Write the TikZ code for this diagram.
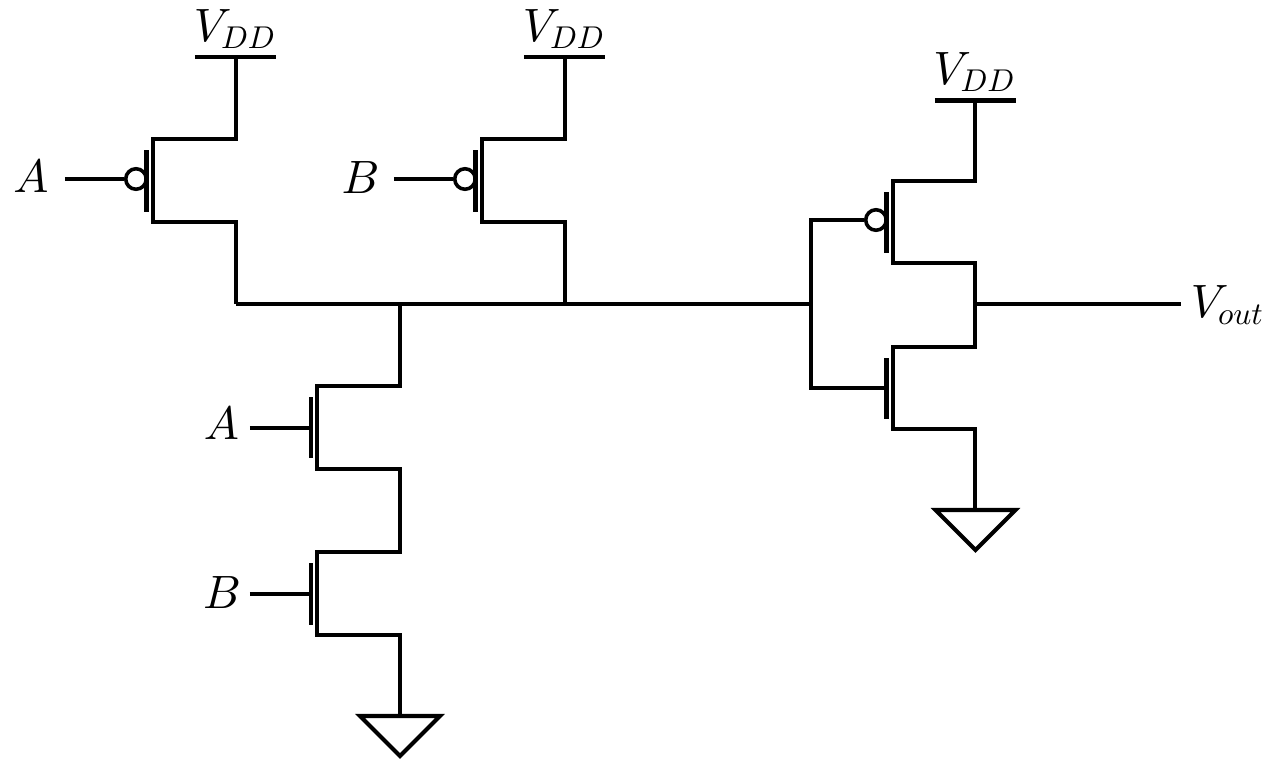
\documentclass[tikz,border=0pt]{standalone}
\DeclareFontShape{OML}{cmm}{m}{it}{<->cmmi10}{}
\DeclareMathSizes{10}{10.4}{7}{5}
\newlength{\du}
\setlength{\du}{0.2222pt}
\tikzset{
  wire/.style={line width=4.1\du,line join=miter},
  bubble/.style={circle,draw,line width=3.6\du,inner sep=0pt,minimum size=20.5\du},
  lbl/.style={inner sep=0pt},
  gnd/.style={line width=4.1\du,line join=miter,fill=white}
}
\begin{document}
\begin{tikzpicture}
\pgftransformxscale{1.000000}
\pgftransformyscale{-1.000000}
\useasboundingbox (0\du,0\du) rectangle (1276\du,766\du);
% top left pmos
\coordinate (vddaL) at (195\du,57\du);
\coordinate (vddaR) at (276\du,57\du);
\coordinate (vdda) at (236\du,57\du);
\coordinate (pasR) at (236\du,139\du);
\coordinate (pas) at (153\du,139\du);
\coordinate (pad) at (153\du,222\du);
\coordinate (padR) at (236\du,222\du);
\coordinate (buslA) at (236\du,304\du);
\coordinate (pabT) at (146.5\du,150\du);
\coordinate (pabB) at (146.5\du,212\du);
\coordinate (pain) at (65\du,179\du);
\node[bubble] (pab) at (136\du,179\du) {};
\node[lbl] (vddalbl) at (235.5\du,29\du) {$V_{DD}$};
\node[lbl] (palbl) at (31\du,176.5\du) {$A$};
\draw[wire] (vddaL)--(vddaR);
\draw[wire] (vdda)--(pasR)--(pas)--(pad)--(padR)--(buslA);
\draw[wire] (pabT)--(pabB);
\draw[wire] (pain)--(pab);
% top middle pmos
\coordinate (vddbL) at (524\du,57\du);
\coordinate (vddbR) at (605\du,57\du);
\coordinate (vddb) at (565\du,57\du);
\coordinate (pbsR) at (565\du,139\du);
\coordinate (pbs) at (482\du,139\du);
\coordinate (pbd) at (482\du,222\du);
\coordinate (pbdR) at (565\du,222\du);
\coordinate (buslB) at (565\du,304\du);
\coordinate (pbbT) at (475.5\du,150\du);
\coordinate (pbbB) at (475.5\du,212\du);
\coordinate (pbin) at (394\du,179\du);
\node[bubble] (pbb) at (465\du,179\du) {};
\node[lbl] (vddblbl) at (564.5\du,29\du) {$V_{DD}$};
\node[lbl] (pblbl) at (360.5\du,178\du) {$B$};
\draw[wire] (vddbL)--(vddbR);
\draw[wire] (vddb)--(pbsR)--(pbs)--(pbd)--(pbdR)--(buslB);
\draw[wire] (pbbT)--(pbbB);
\draw[wire] (pbin)--(pbb);
% bus
\coordinate (buslN) at (400\du,304\du);
\coordinate (busrI) at (811\du,304\du);
\draw[wire] (buslA)--(busrI);
% nmos stack
\coordinate (naR) at (400\du,386\du);
\coordinate (nad) at (317\du,386\du);
\coordinate (nas) at (317\du,469\du);
\coordinate (nasR) at (400\du,469\du);
\coordinate (nbdR) at (400\du,552\du);
\coordinate (nbd) at (317\du,552\du);
\coordinate (nbs) at (317\du,635\du);
\coordinate (nbsR) at (400\du,635\du);
\coordinate (gndl) at (400\du,716\du);
\coordinate (gndlL) at (360\du,716\du);
\coordinate (gndlR) at (440\du,716\du);
\coordinate (gndlT) at (400\du,756\du);
\coordinate (nabT) at (311\du,397\du);
\coordinate (nabB) at (311\du,458\du);
\coordinate (naG) at (311\du,428\du);
\coordinate (nain) at (250\du,428\du);
\coordinate (nbbT) at (311\du,563\du);
\coordinate (nbbB) at (311\du,625\du);
\coordinate (nbG) at (311\du,594\du);
\coordinate (nbin) at (250\du,594\du);
\node[lbl] (nalbl) at (221.5\du,423.5\du) {$A$};
\node[lbl] (nblbl) at (222\du,593\du) {$B$};
\draw[wire] (buslN)--(naR)--(nad)--(nas)--(nasR)--(nbdR)--(nbd)--(nbs)--(nbsR)--(gndl);
\draw[wire] (nabT)--(nabB);
\draw[wire] (nbbT)--(nbbB);
\draw[wire] (nain)--(naG);
\draw[wire] (nbin)--(nbG);
\draw[gnd] (gndlL)--(gndlR)--(gndlT)--cycle;
% inverter
\coordinate (vddcL) at (935\du,100.5\du);
\coordinate (vddcR) at (1016\du,100.5\du);
\coordinate (vddc) at (975\du,100.5\du);
\coordinate (pcsR) at (975\du,181\du);
\coordinate (pcs) at (893\du,181\du);
\coordinate (pcd) at (893\du,263\du);
\coordinate (pcdR) at (975\du,263\du);
\coordinate (ncdR) at (975\du,347\du);
\coordinate (ncd) at (893\du,347\du);
\coordinate (ncs) at (893\du,429\du);
\coordinate (ncsR) at (975\du,429\du);
\coordinate (gndr) at (975\du,510\du);
\coordinate (gndrL) at (935.5\du,510\du);
\coordinate (gndrR) at (1015.5\du,510\du);
\coordinate (gndrT) at (975.5\du,550\du);
\coordinate (pcbT) at (886.5\du,192\du);
\coordinate (pcbB) at (886.5\du,253\du);
\coordinate (ncbT) at (886.5\du,358\du);
\coordinate (ncbB) at (886.5\du,419\du);
\coordinate (ncG) at (886.5\du,388\du);
\coordinate (gateT) at (811\du,220\du);
\coordinate (gateB) at (811\du,388\du);
\coordinate (outL) at (975\du,304\du);
\coordinate (outR) at (1181\du,304\du);
\node[bubble] (pcb) at (876\du,220\du) {};
\node[lbl] (vddclbl) at (975\du,72\du) {$V_{DD}$};
\node[lbl] (outlbl) at (1228\du,305\du) {$V_{out}$};
\draw[wire] (vddcL)--(vddcR);
\draw[wire] (vddc)--(pcsR)--(pcs)--(pcd)--(pcdR)--(ncdR)--(ncd)--(ncs)--(ncsR)--(gndr);
\draw[wire] (pcbT)--(pcbB);
\draw[wire] (ncbT)--(ncbB);
\draw[wire] (pcb)--(gateT)--(gateB)--(ncG);
\draw[wire] (outL)--(outR);
\draw[gnd] (gndrL)--(gndrR)--(gndrT)--cycle;
\end{tikzpicture}
\end{document}
